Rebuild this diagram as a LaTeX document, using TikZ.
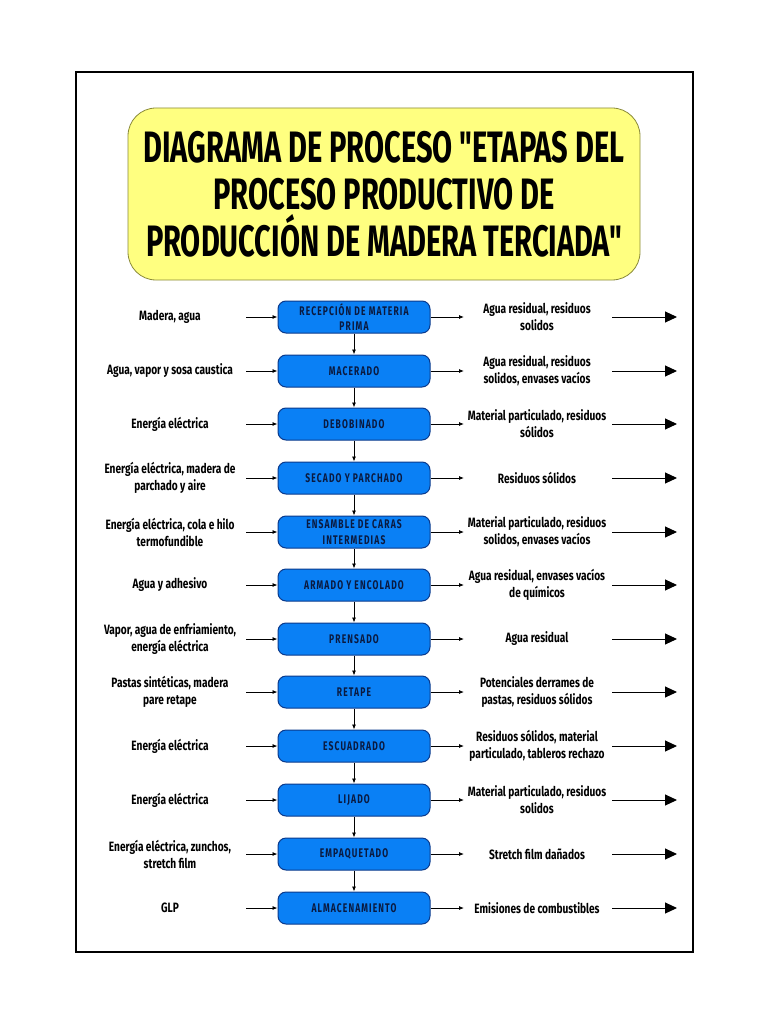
\documentclass[tikz,border=0pt]{standalone}
\usepackage{fontspec}
\setmainfont{Fira Sans}[FakeStretch=0.75]
\newfontfamily\titlefont{Fira Sans}[FakeStretch=0.66]
\newfontfamily\boxfont{Fira Sans}[FakeStretch=0.68,LetterSpace=9]
\usetikzlibrary{arrows.meta,positioning}
\definecolor{boxblue}{HTML}{0A80F5}
\definecolor{boxedge}{HTML}{0B3A8C}
\definecolor{boxtext}{HTML}{0A1A40}
\definecolor{titlefill}{HTML}{FFFF80}
\definecolor{titleedge}{HTML}{8A8A3A}
\begin{document}
\begin{tikzpicture}[x=1pt,y=-1pt,
  procbox/.style={draw=boxedge,line width=1pt,fill=boxblue,rounded corners=8pt,minimum width=152pt,minimum height=32pt,align=center,text=boxtext,font=\boxfont\fontsize{12.5}{15.5}\selectfont\bfseries,inner sep=0pt},
  sidetxt/.style={align=center,font=\fontsize{13.5}{17}\selectfont\bfseries,inner sep=0pt},
  smallarrow/.style={-{Latex[length=5pt,width=4pt]},line width=0.8pt},
  bigarrow/.style={-{Triangle[length=12pt,width=11pt]},line width=1pt}]
\useasboundingbox (0,0) rectangle (768,1024);
\fill[white] (0,0) rectangle (768,1024);
\node[draw=black,line width=2.5pt,minimum width=617pt,minimum height=880pt,inner sep=0pt] (frame) at (384.5,512) {};
\node[draw=titleedge,line width=0.8pt,fill=titlefill,rounded corners=28pt,minimum width=512pt,minimum height=172pt,align=center,font=\titlefont\fontsize{44}{47}\selectfont\bfseries] (title) at (384,194)
 {DIAGRAMA DE PROCESO \char34 ETAPAS DEL\\PROCESO PRODUCTIVO DE\\PRODUCCIÓN DE MADERA TERCIADA\char34};
\foreach \i/\y/\t/\l/\r in {
 1/317/{RECEPCIÓN DE MATERIA\\PRIMA}/{Madera, agua}/{Agua residual, residuos\\solidos},
 2/371/{MACERADO}/{Agua, vapor y sosa caustica}/{Agua residual, residuos\\solidos, envases vacíos},
 3/424/{DEBOBINADO}/{Energía eléctrica}/{Material particulado, residuos\\sólidos},
 4/478/{SECADO Y PARCHADO}/{Energía eléctrica, madera de\\parchado y aire}/{Residuos sólidos},
 5/532/{ENSAMBLE DE CARAS\\INTERMEDIAS}/{Energía eléctrica, cola e hilo\\termofundible}/{Material particulado, residuos\\solidos, envases vacíos},
 6/585/{ARMADO Y ENCOLADO}/{Agua y adhesivo}/{Agua residual, envases vacíos\\de químicos},
 7/639/{PRENSADO}/{Vapor, agua de enfriamiento,\\energía eléctrica}/{Agua residual},
 8/692/{RETAPE}/{Pastas sintéticas, madera\\pare retape}/{Potenciales derrames de\\pastas, residuos sólidos},
 9/746/{ESCUADRADO}/{Energía eléctrica}/{Residuos sólidos, material\\particulado, tableros rechazo},
 10/800/{LIJADO}/{Energía eléctrica}/{Material particulado, residuos\\solidos},
 11/854/{EMPAQUETADO}/{Energía eléctrica, zunchos,\\stretch film}/{Stretch film dañados},
 12/908/{ALMACENAMIENTO}/{GLP}/{Emisiones de combustibles}}{
  \node[procbox] (p\i) at (354,\y) {\t};
  \node[sidetxt] (l\i) at (170,\y) {\l};
  \node[sidetxt] (r\i) at (537,\y) {\r};
  \coordinate (la\i) at (246,\y);
  \coordinate (ra\i) at (464,\y);
  \coordinate (fa\i) at (612,\y);
  \coordinate (fb\i) at (677,\y);
  \draw[smallarrow] (la\i) -- (p\i.west);
  \draw[smallarrow] (p\i.east) -- (ra\i);
  \draw[bigarrow] (fa\i) -- (fb\i);
}
\foreach \a/\b in {1/2,2/3,3/4,4/5,5/6,6/7,7/8,8/9,9/10,10/11,11/12}{
  \draw[smallarrow] (p\a.south) -- (p\b.north);
}
\end{tikzpicture}
\end{document}
